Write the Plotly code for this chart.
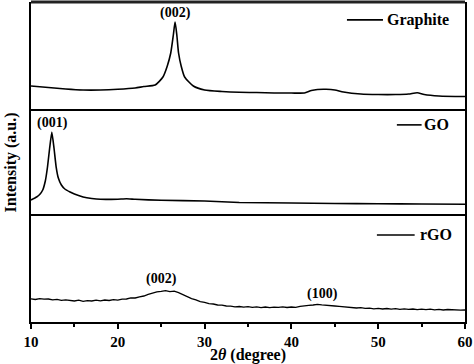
import plotly.graph_objects as go
from plotly.subplots import make_subplots

# ---------------- data (arbitrary units) ----------------
graphite_x = [10, 12, 14, 16, 18, 20, 22, 23, 24.3, 25.2, 25.7, 26.1, 26.4, 26.6,
              26.8, 27.0, 27.3, 27.7, 28.7, 30, 32, 34, 36, 38, 40, 41.5, 42.3,
              43, 44, 45, 46, 48, 50, 52, 53.5, 54.5, 55.3, 57, 60]
graphite_y = [23, 21.5, 20, 19, 19, 19.7, 21, 22.5, 24, 32, 43, 56, 74, 87,
              74, 56, 43, 32, 23, 19, 17.5, 16.7, 16.5, 16, 16, 16, 18.5,
              19.5, 19.7, 19, 17, 15, 14.5, 14.5, 15, 16.3, 14.5, 13, 12.5]

go_x = [10, 10.65, 11.0, 11.35, 11.65, 11.9, 12.15, 12.4, 12.65, 12.9, 13.15,
        13.5, 13.9, 14.5, 15, 16, 17, 18, 20, 21, 22, 25, 30, 34, 40, 45, 50, 55, 60]
go_y = [14, 17, 19.5, 24, 33, 47, 66, 82, 66, 47, 36,
        29, 25, 22, 20, 17, 15.5, 14.7, 14.8, 15.2, 14.7, 13.7, 13, 11.5, 11,
        10.5, 10.2, 10, 9.7]

rgo_x = [10 + 0.5 * i for i in range(101)]
rgo_y = [23.2, 22.5, 23.4, 22.8, 23.0, 22.1, 22.6, 21.7, 22.2, 21.3,
         21.0, 21.8, 20.7, 21.4, 21.0, 21.9, 21.2, 22.0, 21.5, 22.3,
         21.9, 22.8, 23.0, 24.1, 24.0, 25.2, 26.0, 27.6, 29.0, 30.2,
         30.6, 31.4, 30.3, 30.8, 29.4, 27.2, 25.6, 23.4, 22.1, 20.4,
         19.6, 18.3, 18.0, 17.0, 16.9, 16.0, 15.9, 15.2, 15.5, 14.8,
         15.3, 14.6, 15.1, 14.4, 15.0, 14.3, 14.9, 14.6, 15.2, 14.5,
         15.0, 14.7, 15.6, 15.8, 16.6, 17.0, 17.6, 17.1, 16.9, 16.8,
         16.0, 15.6, 15.2, 14.6, 14.7, 14.0, 14.3, 13.6, 13.9, 13.2,
         13.6, 13.0, 13.5, 12.9, 13.3, 12.7, 13.1, 12.6, 13.0, 12.4,
         12.9, 12.3, 12.8, 12.2, 12.6, 12.0, 12.5, 12.1, 12.4, 11.8,
         12.0]

series_names = ["Graphite", "GO", "rGO"]
x_ticks = [10, 20, 30, 40, 50, 60]

# peak labels: (text, x, y, panel)
peak_labels = [("(002)", 26.6, 96, 1), ("(001)", 12.5, 91, 2),
               ("(002)", 25.0, 43, 3), ("(100)", 43.6, 28, 3)]

# ---------------- figure ----------------
FONT = "Times New Roman, Liberation Serif, serif"
fig = make_subplots(rows=3, cols=1, shared_xaxes=True, vertical_spacing=0)

fig.add_trace(go.Scatter(x=graphite_x, y=graphite_y, mode="lines",
                         line=dict(color="black", width=1.6, shape="spline", smoothing=0.6),
                         name=series_names[0], showlegend=False), row=1, col=1)
fig.add_trace(go.Scatter(x=go_x, y=go_y, mode="lines",
                         line=dict(color="black", width=1.6, shape="spline", smoothing=0.4),
                         name=series_names[1], showlegend=False), row=2, col=1)
fig.add_trace(go.Scatter(x=rgo_x, y=rgo_y, mode="lines",
                         line=dict(color="black", width=1.3),
                         name=series_names[2], showlegend=False), row=3, col=1)

d3 = [0.0, 0.3375]
d2 = [0.3375, 0.6656]
d1 = [0.6656, 1.0]

base = dict(showline=True, linecolor="black", linewidth=1.5,
            showgrid=False, zeroline=False, automargin=False)
fig.update_layout(
    yaxis=dict(domain=d1, range=[0, 107], showticklabels=False, ticks="", mirror=True, **base),
    yaxis2=dict(domain=d2, range=[0, 105], showticklabels=False, ticks="", mirror=True, **base),
    yaxis3=dict(domain=d3, range=[0, 108], showticklabels=False, ticks="", mirror=True, **base),
    xaxis=dict(range=[10, 60], showticklabels=False, ticks="", mirror=False, **base),
    xaxis2=dict(range=[10, 60], showticklabels=False, ticks="", mirror=False, **base),
    xaxis3=dict(range=[10, 60], tickvals=x_ticks, ticks="outside", ticklen=5,
                tickwidth=1.5, tickcolor="black", mirror=False,
                minor=dict(dtick=5, tick0=10, ticks="outside", ticklen=3,
                           tickwidth=1.5, tickcolor="black"),
                tickfont=dict(family=FONT, size=15, color="black", weight="bold"),
                **base),
)

fig.add_annotation(text="2<i>θ</i> (degree)", xref="paper", yref="paper",
                   x=0.5, y=-0.104, showarrow=False, xanchor="center", yanchor="middle",
                   font=dict(family=FONT, size=16, color="black", weight="bold"))
fig.add_annotation(text="Intensity (a.u.)", xref="paper", yref="paper",
                   x=-0.045, y=0.5, textangle=-90, showarrow=False,
                   xanchor="center", yanchor="middle",
                   font=dict(family=FONT, size=16, color="black", weight="bold"))

for txt, px, py, panel in peak_labels:
    yr = "y" if panel == 1 else f"y{panel}"
    xr = "x" if panel == 1 else f"x{panel}"
    fig.add_annotation(text=txt, x=px, y=py, xref=xr, yref=yr, showarrow=False,
                       xanchor="center", yanchor="middle",
                       font=dict(family=FONT, size=14, color="black", weight="bold"))

legend_pos = [(0.728, 0.811, 0.944, 0.815), (0.843, 0.900, 0.616, 0.902),
              (0.797, 0.884, 0.272, 0.892)]
for name, (lx0, lx1, ly, tx) in zip(series_names, legend_pos):
    fig.add_shape(type="line", xref="paper", yref="paper", x0=lx0, x1=lx1,
                  y0=ly, y1=ly, line=dict(color="black", width=1.6))
    fig.add_annotation(text=name, xref="paper", yref="paper", x=tx, y=ly,
                       xanchor="left", yanchor="middle", showarrow=False,
                       font=dict(family=FONT, size=16, color="black", weight="bold"))

# thick top frame
fig.add_shape(type="line", xref="paper", yref="paper", x0=0, x1=1, y0=1, y1=1,
              line=dict(color="#222", width=3))

fig.update_layout(width=474, height=364, margin=dict(l=31, r=9, t=2, b=42),
                  plot_bgcolor="white", paper_bgcolor="white", showlegend=False)

fig.write_html("out.html", config={"displayModeBar": False},
               post_script="document.body.style.margin='0';document.body.style.padding='0';")
